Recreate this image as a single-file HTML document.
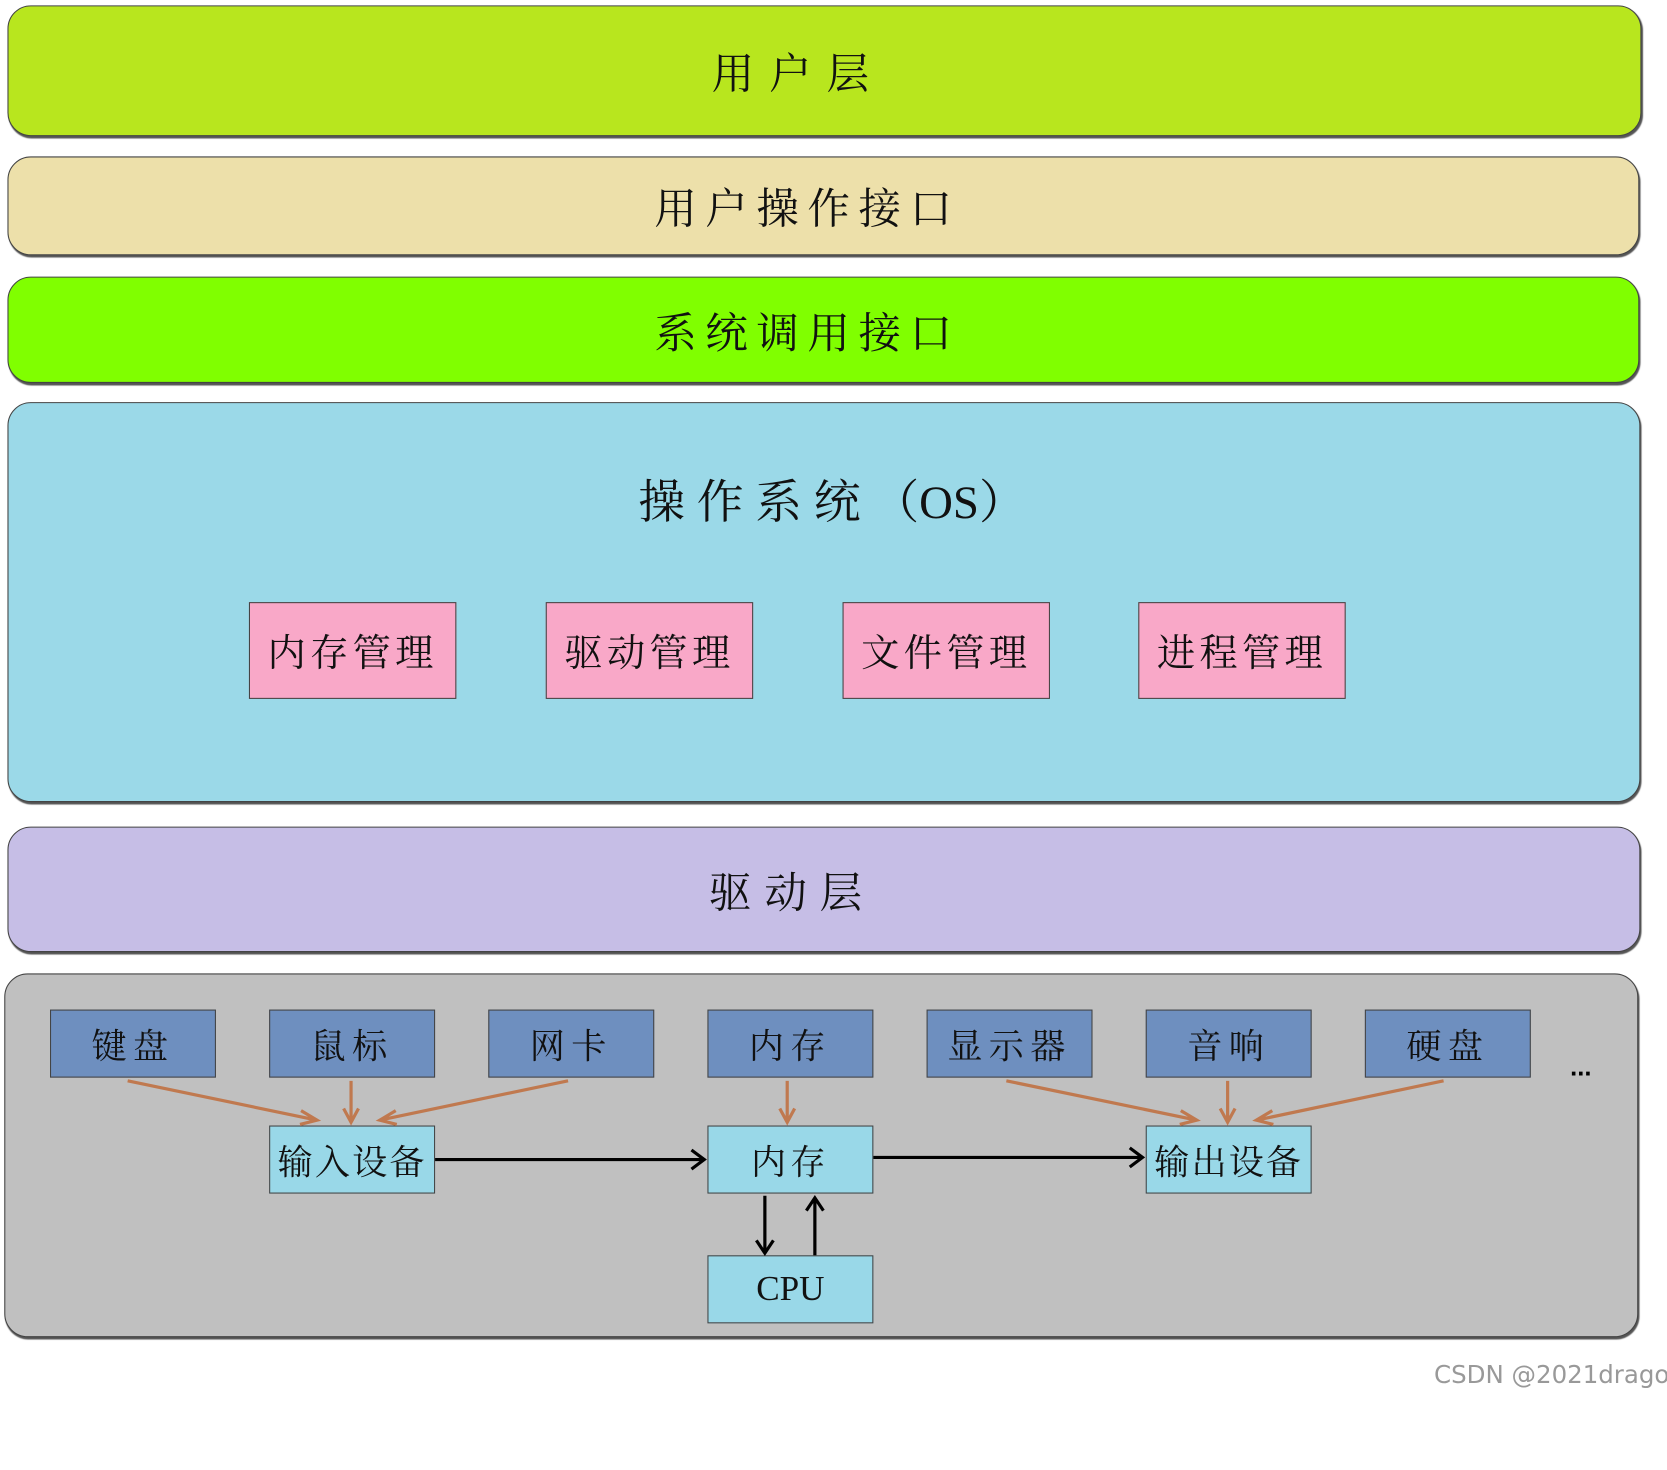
<!DOCTYPE html>
<html><head><meta charset="utf-8"><style>
html,body{margin:0;padding:0;background:#fff;width:1667px;height:1470px;overflow:hidden}
#w{position:absolute;left:0;top:0;width:1567px;height:1382px;transform:scale(1.0638);transform-origin:0 0}
.b{position:absolute;box-sizing:border-box;border:1.5px solid #444;display:flex;align-items:center;justify-content:center;font-family:"Liberation Serif","Noto Serif CJK SC",serif;color:#111}
.r{border-radius:22px;box-shadow:1px 2px 1px #555}
.t{letter-spacing:10px;font-size:40px;padding-right:50px}
.p{background:#f9a8c8;font-size:36px;letter-spacing:4px}
.d{background:#6e8fbf;font-size:33px;letter-spacing:6px}
.c{background:#99d8e8;font-size:33px;letter-spacing:4px}
</style></head><body><div id="w">
<div class="b r t" style="left:7px;top:5px;width:1536px;height:123px;background:#b8e61e;letter-spacing:14px">用户层</div>
<div class="b r t" style="left:7px;top:147px;width:1534px;height:93px;background:#ede0aa;letter-spacing:8px;padding-right:30px">用户操作接口</div>
<div class="b r t" style="left:7px;top:260px;width:1534px;height:100px;background:#80ff00;letter-spacing:8px;padding-right:30px">系统调用接口</div>
<div class="b r" style="left:7px;top:378px;width:1535px;height:376px;background:#9bd9e8"></div>
<div style="position:absolute;left:600px;top:436px;font-family:'Liberation Serif','Noto Serif CJK SC',serif;font-size:44px;color:#111;white-space:nowrap"><span style="letter-spacing:11px">操作系统</span>（OS）</div>
<div class="b p" style="left:234px;top:566px;width:195px;height:91px">内存管理</div>
<div class="b p" style="left:513px;top:566px;width:195px;height:91px">驱动管理</div>
<div class="b p" style="left:792px;top:566px;width:195px;height:91px">文件管理</div>
<div class="b p" style="left:1070px;top:566px;width:195px;height:91px">进程管理</div>
<div class="b r t" style="left:7px;top:777px;width:1535px;height:118px;background:#c6bee6;letter-spacing:12px;padding-right:60px">驱动层</div>
<div class="b r" style="left:4px;top:915px;width:1536px;height:342px;background:#c0c0c0"></div>
<div class="b d" style="left:47px;top:949px;width:156px;height:64px">键盘</div>
<div class="b d" style="left:253px;top:949px;width:156px;height:64px">鼠标</div>
<div class="b d" style="left:459px;top:949px;width:156px;height:64px">网卡</div>
<div class="b d" style="left:665px;top:949px;width:156px;height:64px">内存</div>
<div class="b d" style="left:871px;top:949px;width:156px;height:64px">显示器</div>
<div class="b d" style="left:1077px;top:949px;width:156px;height:64px">音响</div>
<div class="b d" style="left:1283px;top:949px;width:156px;height:64px">硬盘</div>
<div class="b c" style="left:253px;top:1058px;width:156px;height:64px;letter-spacing:2px">输入设备</div>
<div class="b c" style="left:665px;top:1058px;width:156px;height:64px">内存</div>
<div class="b c" style="left:1077px;top:1058px;width:156px;height:64px;letter-spacing:2px">输出设备</div>
<div class="b c" style="left:665px;top:1180px;width:156px;height:64px;letter-spacing:0">CPU</div>
<div style="position:absolute;left:1476px;top:990px;font-size:24px;font-family:'Liberation Sans',sans-serif;font-weight:bold">...</div>
<svg style="position:absolute;left:0;top:0" width="1567" height="1382">
<g stroke="#c0794f" stroke-width="3" fill="none">
<path d="M120 1016L298 1053M283 1044L298 1053L282 1057"/>
<path d="M330 1016L330 1055M323 1042L330 1055L337 1042"/>
<path d="M534 1016L357 1053M372 1044L357 1053L373 1057"/>
<path d="M740 1016L740 1055M733 1042L740 1055L747 1042"/>
<path d="M946 1016L1125 1053M1110 1044L1125 1053L1109 1057"/>
<path d="M1154 1016L1154 1055M1147 1042L1154 1055L1161 1042"/>
<path d="M1357 1016L1181 1053M1196 1044L1181 1053L1197 1057"/>
</g>
<g stroke="#000" stroke-width="3" fill="none">
<path d="M409 1090L662 1090M650 1081L662 1090L650 1099"/>
<path d="M821 1088L1074 1088M1062 1079L1074 1088L1062 1097"/>
<path d="M719 1124L719 1178M711 1166L719 1178L727 1166"/>
<path d="M766 1180L766 1126M758 1138L766 1126L774 1138"/>
</g>
</svg>
<div style="position:absolute;left:1348px;top:1280px;font-family:'DejaVu Sans','Liberation Sans',sans-serif;font-size:23px;color:#999;white-space:nowrap">CSDN @2021dragon</div>
</div></body></html>
